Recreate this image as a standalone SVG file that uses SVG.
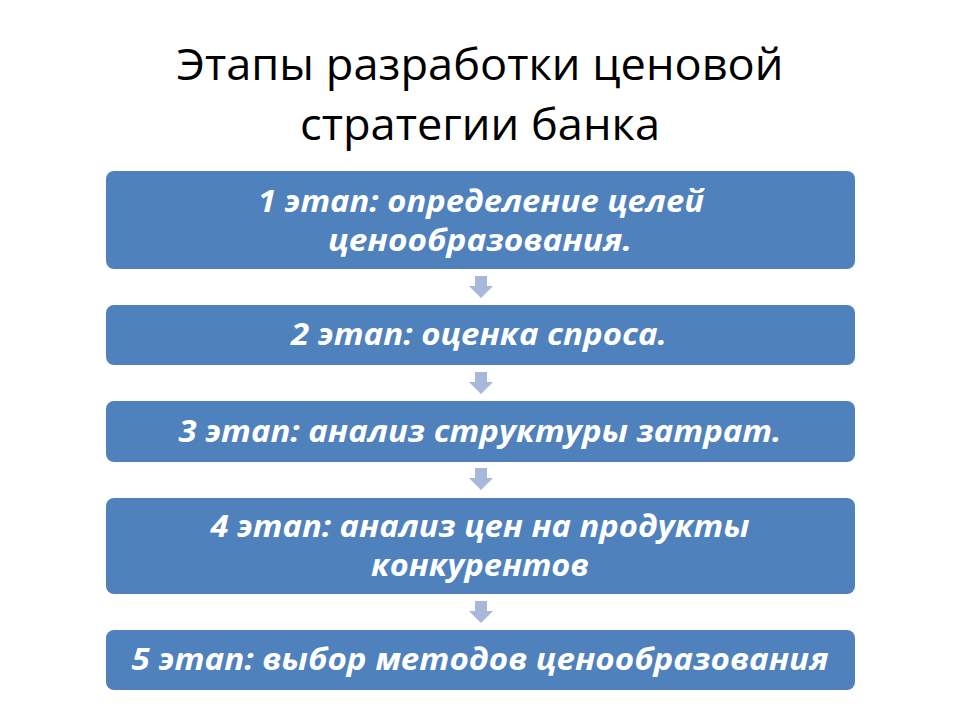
<svg xmlns="http://www.w3.org/2000/svg" width="960" height="720" viewBox="0 0 960 720">
<style>
.title{font-family:"Open Sans","Liberation Sans",sans-serif;font-size:44px;fill:#000;text-anchor:middle}
.box{fill:#4F81BD}
.lbl{font-family:"Open Sans","Liberation Sans",sans-serif;font-size:31px;font-weight:bold;font-style:italic;fill:#fff;text-anchor:middle}
.arr{fill:#A7B8DB}
</style>
<rect width="960" height="720" fill="#fff"/>
<g id="title">
<text class="title" x="480" y="80" textLength="607" lengthAdjust="spacingAndGlyphs">Этапы разработки ценовой</text>
<text class="title" x="480" y="140" textLength="360" lengthAdjust="spacingAndGlyphs">стратегии банка</text>
</g>
<g id="connectors">
<polygon class="arr" points="475,276 487,276 487,286 493,286 481,298 469,286 475,286"/>
<polygon class="arr" points="475,372 487,372 487,382 493,382 481,394 469,382 475,382"/>
<polygon class="arr" points="475,468 487,468 487,478 493,478 481,490 469,478 475,478"/>
<polygon class="arr" points="475,601 487,601 487,611 493,611 481,623 469,611 475,611"/>
</g>
<g id="step1">
<rect class="box" x="106" y="171" width="749" height="98" rx="8"/>
<text class="lbl" x="481" y="212" textLength="446" lengthAdjust="spacingAndGlyphs">1 этап: определение целей</text>
<text class="lbl" x="480" y="251" textLength="304" lengthAdjust="spacingAndGlyphs">ценообразования.</text>
</g>
<g id="step2">
<rect class="box" x="106" y="305" width="749" height="60" rx="8"/>
<text class="lbl" x="479" y="345" textLength="376" lengthAdjust="spacingAndGlyphs">2 этап: оценка спроса.</text>
</g>
<g id="step3">
<rect class="box" x="106" y="401" width="749" height="61" rx="8"/>
<text class="lbl" x="480" y="442" textLength="603" lengthAdjust="spacingAndGlyphs">3 этап: анализ структуры затрат.</text>
</g>
<g id="step4">
<rect class="box" x="106" y="498" width="749" height="96" rx="8"/>
<text class="lbl" x="480" y="537" textLength="539" lengthAdjust="spacingAndGlyphs">4 этап: анализ цен на продукты</text>
<text class="lbl" x="480" y="576" textLength="218" lengthAdjust="spacingAndGlyphs">конкурентов</text>
</g>
<g id="step5">
<rect class="box" x="106" y="630" width="749" height="60" rx="8"/>
<text class="lbl" x="480" y="670" textLength="697" lengthAdjust="spacingAndGlyphs">5 этап: выбор методов ценообразования</text>
</g>
</svg>
